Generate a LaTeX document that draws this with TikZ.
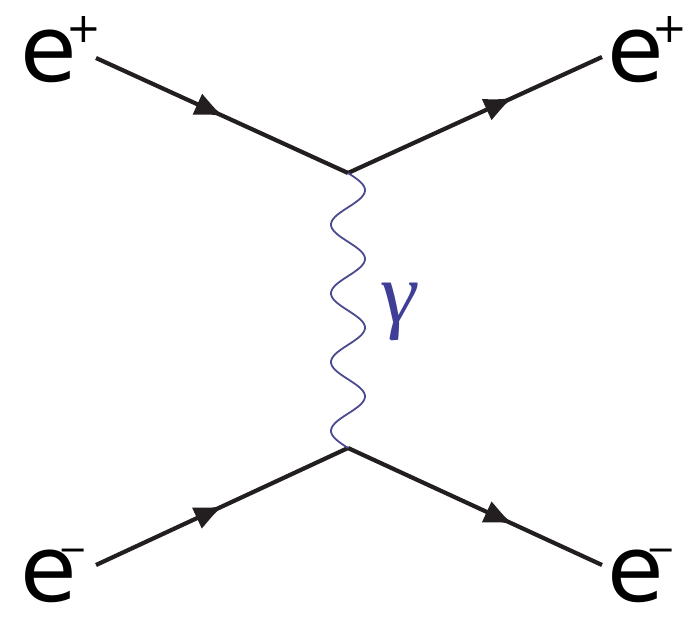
\documentclass[tikz,border=0pt]{standalone}
\usepackage{fontspec}
\setmainfont{DejaVu Sans}
\newfontfamily\gammafont{Liberation Serif}
\usetikzlibrary{decorations.markings}
\definecolor{fermion}{HTML}{231F20}
\definecolor{photon}{HTML}{4B4A8F}
\definecolor{gammacol}{HTML}{3F3F98}
\tikzset{
  fline/.style={draw=fermion,line width=4.2pt,line cap=butt},
  farrow/.style={postaction={decorate,decoration={markings,
     mark=at position #1 with {\fill[fermion] (0pt,0pt) .. controls (-10pt,2.6pt) .. (-29pt,11.5pt) -- (-29pt,-11.5pt) .. controls (-10pt,-2.6pt) .. cycle;}}}},
  wave/.style={draw=photon,line width=1.8pt,line join=round},
  elabel/.style={inner sep=0pt,anchor=base,font=\fontsize{92}{92}\selectfont,text=black},
  suplabel/.style={inner sep=0pt,anchor=base,font=\fontsize{41.5}{41.5}\selectfont,text=black},
  sublabel/.style={inner sep=0pt,anchor=base,font=\fontsize{35}{35}\selectfont,text=black},
  glabel/.style={inner sep=0pt,anchor=center,font=\gammafont\fontsize{86}{86}\selectfont,text=gammacol,xslant=0.12}
}
\begin{document}
\begin{tikzpicture}[x=1pt,y=-1pt]
\useasboundingbox (0,0) rectangle (700,620);
\coordinate (vt) at (348,173);
\coordinate (vb) at (348,448);
\coordinate (a1) at (96,58);
\coordinate (a2) at (602,57);
\coordinate (b1) at (96,565);
\coordinate (b2) at (602,565);
\path[fline,farrow=0.507] (a1) -- (vt);
\path[fline,farrow=0.65] (vt) -- (a2);
\path[fline,farrow=0.505] (b1) -- (vb);
\path[fline,farrow=0.65] (vb) -- (b2);
\draw[wave,shift={(vt)}] plot[smooth,domain=0:275,samples=121] ({17*sin(\x/68.75*360)},{\x}) -- (vb);
\node[glabel] (g) at (398,312) {γ};
\node[elabel] (e1) at (48.5,82) {e};
\node[suplabel] (p1) at (83.5,42.5) {+};
\node[elabel] (e2) at (636,82) {e};
\node[suplabel] (p2) at (670,42.5) {+};
\node[elabel] (e3) at (48.5,601) {e};
\node[sublabel] (m3) at (73.5,561) {−};
\node[elabel] (e4) at (636,601) {e};
\node[sublabel] (m4) at (661.5,561) {−};
\end{tikzpicture}
\end{document}
